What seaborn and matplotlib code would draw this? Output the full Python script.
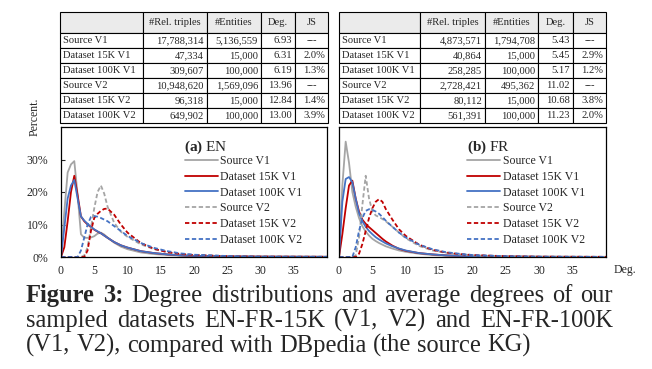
import numpy as np
import pandas as pd
import seaborn as sns
import matplotlib
matplotlib.use("Agg")
import matplotlib.pyplot as plt
from matplotlib.ticker import FuncFormatter

# ---- table data -------------------------------------------------------------
row_names = ["Source V1", "Dataset 15K V1", "Dataset 100K V1",
             "Source V2", "Dataset 15K V2", "Dataset 100K V2"]
col_names = ["", "#Rel. triples", "#Entities", "Deg.", "JS"]

en_triples = ["17,788,314", "47,334", "309,607", "10,948,620", "96,318", "649,902"]
en_entities = ["5,136,559", "15,000", "100,000", "1,569,096", "15,000", "100,000"]
en_deg = ["6.93", "6.31", "6.19", "13.96", "12.84", "13.00"]
en_js = ["---", "2.0%", "1.3%", "---", "1.4%", "3.9%"]

fr_triples = ["4,873,571", "40,864", "258,285", "2,728,421", "80,112", "561,391"]
fr_entities = ["1,794,708", "15,000", "100,000", "495,362", "15,000", "100,000"]
fr_deg = ["5.43", "5.45", "5.17", "11.02", "10.68", "11.23"]
fr_js = ["---", "2.9%", "1.2%", "---", "3.8%", "2.0%"]

# ---- degree distributions (percent) -----------------------------------------
degrees = [0, 0.5, 1, 1.5, 2, 2.5, 3, 3.5, 4, 4.5, 5, 5.5, 6, 6.5, 7,
           8, 9, 10, 12, 14, 16, 18, 20, 25, 30, 40]

en_src_v1 = [0, 14, 26, 28.5, 29.5, 19, 7, 5.9, 5.9, 6.0, 6.4, 7.2, 7.5, 6.9, 6.0,
             4.4, 3.2, 2.4, 1.4, 0.9, 0.6, 0.4, 0.3, 0.15, 0.1, 0.05]
en_15k_v1 = [0, 3, 11, 20, 25, 19, 12.5, 11, 10, 9.2, 8.4, 7.8, 7.3, 6.6, 5.9,
             4.6, 3.6, 2.9, 1.8, 1.2, 0.8, 0.5, 0.35, 0.15, 0.1, 0.05]
en_100k_v1 = [0, 9, 18, 22, 23.7, 18, 12.5, 11.2, 10.2, 9.3, 8.5, 7.9, 7.3, 6.6, 5.9,
              4.6, 3.6, 2.9, 1.8, 1.2, 0.8, 0.5, 0.35, 0.15, 0.1, 0.05]
en_src_v2 = [0, 0, 0, 0, 0, 0, 0, 0.5, 3, 9, 15, 20, 22, 19.5, 15.5,
             10.5, 7.8, 6.2, 3.9, 2.4, 1.5, 0.9, 0.6, 0.25, 0.1, 0.05]
en_15k_v2 = [0, 0, 0, 0, 0, 0, 0, 0, 2, 8, 12, 13.3, 14.2, 14.8, 14.9,
             13, 10, 7.5, 4.3, 2.5, 1.5, 0.9, 0.6, 0.25, 0.1, 0.05]
en_100k_v2 = [0, 0, 0, 0, 0, 0, 2, 6, 10, 12.3, 12.6, 12.4, 12, 11.5, 11,
              9.5, 8, 6.5, 4.3, 2.8, 1.8, 1.1, 0.7, 0.3, 0.1, 0.05]

fr_src_v1 = [0, 22, 35.5, 29, 20, 15.5, 12, 9.5, 7.8, 6.6, 5.6, 4.9, 4.3, 3.8, 3.3,
             2.6, 2.0, 1.6, 1.0, 0.6, 0.4, 0.3, 0.2, 0.1, 0.05, 0.02]
fr_15k_v1 = [0, 7, 15, 22, 23.5, 18, 14, 11.5, 10.2, 9.2, 8.3, 7.4, 6.5, 5.6, 4.8,
             3.5, 2.5, 1.9, 1.2, 0.8, 0.5, 0.35, 0.25, 0.1, 0.05, 0.02]
fr_100k_v1 = [0, 17, 24, 24.6, 23, 18, 13.5, 11, 9.3, 8.0, 7.0, 6.1, 5.4, 4.8, 4.2,
              3.3, 2.6, 2.0, 1.2, 0.8, 0.5, 0.35, 0.25, 0.1, 0.05, 0.02]
fr_src_v2 = [0, 0, 0, 0, 0, 0.5, 6, 16, 25, 18, 14, 12.8, 12.3, 11.7, 11,
             9.3, 7.5, 5.8, 3.4, 2.0, 1.3, 0.8, 0.5, 0.2, 0.1, 0.05]
fr_15k_v2 = [0, 0, 0, 0, 0, 0, 1, 4, 8, 12, 15, 17, 17.8, 17, 14.8,
             11.5, 8.5, 6.5, 3.8, 2.2, 1.4, 0.9, 0.6, 0.25, 0.1, 0.05]
fr_100k_v2 = [0, 0, 0, 0, 0, 3, 8, 12, 14.2, 14.7, 14.5, 14, 13.3, 12.3, 11.2,
              9.3, 7.5, 6.0, 3.8, 2.4, 1.5, 1.0, 0.6, 0.25, 0.1, 0.05]

GRAY, RED, BLUE = "#a5a5a5", "#c00000", "#4472c4"
DASH = (0, (2.4, 1.4))
styles = [(GRAY, "-"), (RED, "-"), (BLUE, "-"), (GRAY, DASH), (RED, DASH), (BLUE, DASH)]

W, H = 652, 369


def px_box(x0, y0, x1, y1):
    return [x0 / W, 1 - y1 / H, (x1 - x0) / W, (y1 - y0) / H]


def draw_table(box, col_px, triples, entities, deg, js):
    tax = fig.add_axes(px_box(*box))
    tax.axis("off")
    cells = [[n, a, b, c, d] for n, a, b, c, d in zip(row_names, triples, entities, deg, js)]
    tab = tax.table(cellText=cells, colLabels=col_names, bbox=[0, 0, 1, 1],
                    colWidths=col_px)
    tab.auto_set_font_size(False)
    for (r, c), cell in tab.get_celld().items():
        cell.set_height(21 if r == 0 else 15)
        cell.set_linewidth(0.8)
        cell.get_text().set_fontsize(7.6)
        cell.PAD = 3.0 / col_px[c]
        if r == 0:
            cell.set_facecolor("#ebebeb")
            loc = "center"
        elif c == 0:
            loc = "left"
        elif cell.get_text().get_text() == "---":
            loc = "center"
        else:
            loc = "right"
        cell._loc = loc
        cell.get_text().set_horizontalalignment(loc)


def draw_panel(box, series, title, legend_x, show_y):
    ax = fig.add_axes(px_box(*box))
    for values, (color, ls) in zip(series, styles):
        sns.lineplot(x=degrees, y=values, ax=ax, color=color, linestyle=ls,
                     linewidth=1.3)
    ax.set_xlim(0, 40)
    ax.set_ylim(0, 40)
    ax.set_xticks(range(0, 40, 5))
    ax.tick_params(axis="x", length=0, pad=6, labelsize=8.5)
    if show_y:
        ax.set_yticks([0, 10, 20, 30])
        ax.yaxis.set_major_formatter(FuncFormatter(lambda v, p: "{:.0f}%".format(v)))
        ax.tick_params(axis="y", direction="in", length=3, width=0.8,
                       pad=9, labelsize=8.5)
    else:
        ax.set_yticks([])
    for sp in ax.spines.values():
        sp.set_visible(True)
        sp.set_linewidth(0.9)
        sp.set_color("black")
    ax.set_xlabel("")
    ax.set_ylabel("")
    ax.text(legend_x + 0.08, 0.845, title, transform=ax.transAxes,
            fontsize=11, ha="center", va="center")
    ax.legend(ax.lines[:6], row_names, loc="upper left", frameon=False,
              bbox_to_anchor=(legend_x, 0.785), fontsize=8.5,
              handlelength=2.8, handletextpad=0.2, labelspacing=0.32,
              borderpad=0, borderaxespad=0)
    return ax


sns.set_style("ticks")
plt.rcParams["font.family"] = ["Liberation Serif", "DejaVu Serif"]
plt.rcParams["mathtext.fontset"] = "custom"
plt.rcParams["mathtext.rm"] = "Liberation Serif"
plt.rcParams["mathtext.bf"] = "Liberation Serif:bold"

fig = plt.figure(figsize=(W / 100, H / 100), dpi=100)

draw_table((60, 12, 328, 123), [83, 64, 54, 34, 33], en_triples, en_entities, en_deg, en_js)
draw_table((339, 12, 606, 123), [81, 65, 53, 35, 33], fr_triples, fr_entities, fr_deg, fr_js)

draw_panel((61, 127, 327, 257),
           [en_src_v1, en_15k_v1, en_100k_v1, en_src_v2, en_15k_v2, en_100k_v2],
           r"$\mathbf{(a)}$ EN", 0.466, True)
draw_panel((339, 127, 606, 257),
           [fr_src_v1, fr_15k_v1, fr_100k_v1, fr_src_v2, fr_15k_v2, fr_100k_v2],
           r"$\mathbf{(b)}$ FR", 0.48, False)

fig.text(35 / W, 1 - 117 / H, "Percent.", rotation=90, fontsize=8.5,
         ha="center", va="center")
fig.text(625 / W, 1 - 270 / H, "Deg.", fontsize=8.5, ha="center", va="center")

# ---- caption, justified word by word ---------------------------------------
renderer = fig.canvas.get_renderer()
caption = [
    ([("Figure", "bold"), ("3:", "bold"), ("Degree", "normal"), ("distributions", "normal"),
      ("and", "normal"), ("average", "normal"), ("degrees", "normal"), ("of", "normal"),
      ("our", "normal")], 301.7, True),
    ([(w, "normal") for w in "sampled datasets EN-FR-15K (V1, V2) and EN-FR-100K".split()],
     326.7, True),
    ([(w, "normal") for w in "(V1, V2), compared with DBpedia (the source KG)".split()],
     351.7, False),
]

# size the caption font so the last (unjustified) line ends where it does
probe = fig.text(0, 0, "(V1, V2), compared with DBpedia (the source KG)", fontsize=12)
cap_size = 12 * 504 / probe.get_window_extent(renderer).width
probe.remove()

for words, y, justify in caption:
    texts = [fig.text(0, 1 - y / H, w, fontsize=cap_size, fontweight=wt,
                      ha="left", va="baseline") for w, wt in words]
    widths = [t.get_window_extent(renderer).width for t in texts]
    if justify:
        gap = (587 - sum(widths)) / (len(words) - 1)
    else:
        gap = cap_size * 0.25 * 100 / 72
    x = 26
    for t, w in zip(texts, widths):
        t.set_x(x / W)
        x += w + gap

fig.savefig("out.png", dpi=100)
